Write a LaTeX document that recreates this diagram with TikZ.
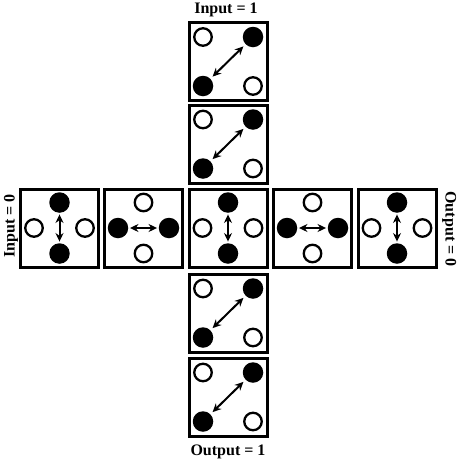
\documentclass[tikz,border=0pt]{standalone}
\usepackage{fontspec}
\setmainfont{Liberation Serif}
\usetikzlibrary{arrows.meta}

\begin{document}
\begin{tikzpicture}[x=1pt,y=-1pt,
  cell/.style={draw, line width=3pt, minimum size=78pt, inner sep=0pt},
  full/.style={circle, fill=black, minimum size=20.5pt, inner sep=0pt},
  empty/.style={circle, draw, line width=2.3pt, minimum size=17.5pt, inner sep=0pt},
  swap/.style={{Stealth[length=8.5pt,width=8pt]}-{Stealth[length=8.5pt,width=8pt]}, line width=2pt},
  tag/.style={font=\bfseries\fontsize{16}{19}\selectfont, inner sep=0pt, anchor=base}]
\useasboundingbox (0,0) rectangle (460,464);
% diagonal cells of the column
\foreach \name/\x/\y in {top/228/61.5, upper/228/144, lower/228/313, bottom/228/397} {
  \node[name=\name, cell] at (\x,\y) {};
  \node[name=\name-nw, empty] at ([shift={(-25,-24.5)}]\name.center) {};
  \node[name=\name-ne, full] at ([shift={(25,-24.5)}]\name.center) {};
  \node[name=\name-sw, full] at ([shift={(-25,24.5)}]\name.center) {};
  \node[name=\name-se, empty] at ([shift={(25,24.5)}]\name.center) {};
  \draw[swap, shorten <=3pt, shorten >=3pt] (\name-ne) -- (\name-sw);
}
% vertical swaps of the row
\foreach \name/\x in {farleft/59.5, middle/228, farright/397} {
  \node[name=\name, cell] at (\x,228) {};
  \node[name=\name-n, full] at ([shift={(0,-25.5)}]\name.center) {};
  \node[name=\name-s, full] at ([shift={(0,25.5)}]\name.center) {};
  \node[name=\name-w, empty] at ([shift={(-25.5,0)}]\name.center) {};
  \node[name=\name-e, empty] at ([shift={(25.5,0)}]\name.center) {};
  \draw[swap, shorten <=1.5pt, shorten >=1.5pt] (\name-n) -- (\name-s);
}
% horizontal swaps of the row
\foreach \name/\x in {left/143.5, right/312.5} {
  \node[name=\name, cell] at (\x,228) {};
  \node[name=\name-n, empty] at ([shift={(0,-25.5)}]\name.center) {};
  \node[name=\name-s, empty] at ([shift={(0,25.5)}]\name.center) {};
  \node[name=\name-w, full] at ([shift={(-25.5,0)}]\name.center) {};
  \node[name=\name-e, full] at ([shift={(25.5,0)}]\name.center) {};
  \draw[swap, shorten <=1.5pt, shorten >=1.5pt] (\name-w) -- (\name-e);
}
\node[name=input1, tag] at (226,13) {Input = 1};
\node[name=output1, tag] at (228,455) {Output = 1};
\node[name=input0, tag, rotate=90] at (14.5,226) {Input = 0};
\node[name=output0, tag, rotate=-90] at (445.5,229) {Output = 0};
\end{tikzpicture}
\end{document}
